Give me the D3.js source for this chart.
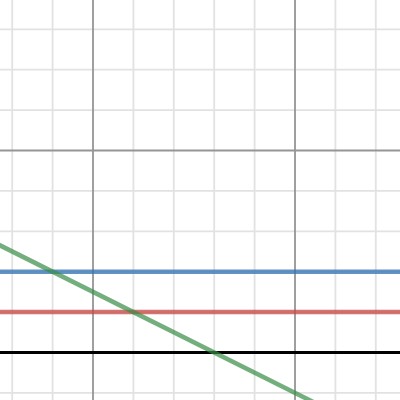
<!DOCTYPE html>
<html>
<head>
  <meta charset="utf-8">
  <script src="https://d3js.org/d3.v7.min.js"></script>
  <style>
    body { margin: 0; background: #fff; }
    svg { display: block; }
  </style>
</head>
<body>
  <script type="text/javascript">
    // graph window, in graph units
    var xDomain = [2.698, 12.599];
    var yDomain = [-1.176, 8.725];

    // horizontal lines y = c
    var blueLevel = [2];
    var redLevel = [1];

    // sloped green line, two points
    var greenPoints = [
      { x: 2, y: 3 },
      { x: 14, y: -3 }
    ];

    var width = 400,
        height = 400;

    var svg = d3.select("body")
      .append("svg")
        .attr("width", width)
        .attr("height", height);

    var x = d3.scaleLinear().domain(xDomain).range([0, width]);
    var y = d3.scaleLinear().domain(yDomain).range([height, 0]);

    var xTicks = d3.range(Math.ceil(xDomain[0]), Math.floor(xDomain[1]) + 1);
    var yTicks = d3.range(Math.ceil(yDomain[0]), Math.floor(yDomain[1]) + 1);

    // minor grid
    var grid = svg.append("g").attr("class", "grid");
    grid.selectAll("line.vx")
        .data(xTicks.filter(function (d) { return d % 5 !== 0; }))
      .enter().append("line")
        .attr("x1", function (d) { return x(d); })
        .attr("x2", function (d) { return x(d); })
        .attr("y1", 0).attr("y2", height)
        .style("stroke", "#e2e2e2")
        .style("stroke-width", 1.8);
    grid.selectAll("line.hy")
        .data(yTicks.filter(function (d) { return d % 5 !== 0 && d !== 0; }))
      .enter().append("line")
        .attr("y1", function (d) { return y(d); })
        .attr("y2", function (d) { return y(d); })
        .attr("x1", 0).attr("x2", width)
        .style("stroke", "#e2e2e2")
        .style("stroke-width", 1.8);

    // major grid every 5 units
    grid.selectAll("line.mx")
        .data(xTicks.filter(function (d) { return d % 5 === 0 && d !== 0; }))
      .enter().append("line")
        .attr("x1", function (d) { return x(d); })
        .attr("x2", function (d) { return x(d); })
        .attr("y1", 0).attr("y2", height)
        .style("stroke", "#959595")
        .style("stroke-width", 1.8);
    grid.selectAll("line.my")
        .data(yTicks.filter(function (d) { return d % 5 === 0 && d !== 0; }))
      .enter().append("line")
        .attr("y1", function (d) { return y(d); })
        .attr("y2", function (d) { return y(d); })
        .attr("x1", 0).attr("x2", width)
        .style("stroke", "#959595")
        .style("stroke-width", 1.8);

    // x axis (y = 0)
    svg.append("line")
        .attr("x1", 0).attr("x2", width)
        .attr("y1", y(0)).attr("y2", y(0))
        .style("stroke", "#000")
        .style("stroke-width", 3);

    // horizontal curves
    function hline(levels, color) {
      svg.selectAll(null)
          .data(levels)
        .enter().append("line")
          .attr("x1", x(xDomain[0]))
          .attr("x2", x(xDomain[1]))
          .attr("y1", function (d) { return y(d); })
          .attr("y2", function (d) { return y(d); })
          .style("stroke", color)
          .style("stroke-width", 4.5)
          .style("stroke-opacity", 0.75);
    }
    hline(blueLevel, "#2d70b3");
    hline(redLevel, "#c74440");

    var line = d3.line()
        .x(function (d) { return x(d.x); })
        .y(function (d) { return y(d.y); });

    svg.append("path")
        .datum(greenPoints)
        .attr("d", line)
        .style("fill", "none")
        .style("stroke", "#388c46")
        .style("stroke-width", 4.5)
        .style("stroke-opacity", 0.7);
  </script>
</body>
</html>
